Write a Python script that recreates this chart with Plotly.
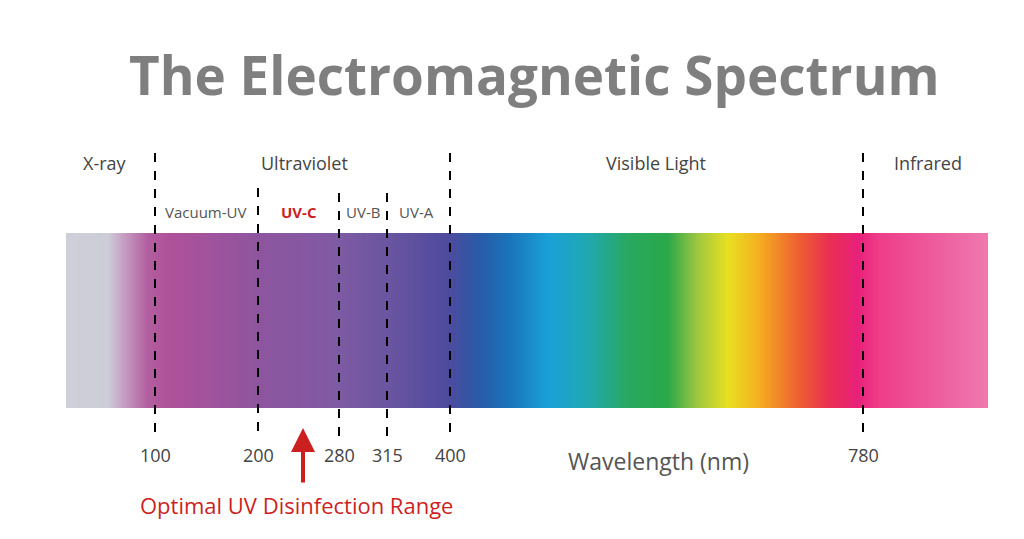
import numpy as np
import plotly.graph_objects as go

# spectrum colour stops: (position along the strip in px, colour)
stop_pos = [58, 100, 112, 140, 160, 250, 330, 380, 440, 470, 500, 540, 580, 620, 660, 690, 720, 750, 790, 820, 850, 870, 980]
stop_col = ["#cfcfd9", "#cdcdd8", "#c8a8c8", "#b25ea0", "#b0519a", "#8e559f", "#7e5aa3", "#6a55a0",
            "#4e4a9e", "#2a5aa8", "#1a72b8", "#1aa0d8", "#20a8b0", "#28a860", "#2aa84a", "#a0c840",
            "#e8e020", "#f5b020", "#ee6030", "#e83050", "#e8207a", "#ee3c88", "#ee7ab0"]

# wavelength boundaries and where they sit on the strip
wavelengths = [100, 200, 280, 315, 400, 780]
wl_pos = [147, 250, 331, 379, 442, 855]
line_top = [145, 180, 185, 185, 145, 145]

regions = ["X-ray", "Ultraviolet", "Visible Light", "Infrared"]
region_pos = [97, 296, 648, 920]
subregions = ["Vacuum-UV", "UV-C", "UV-B", "UV-A"]
sub_pos = [198, 291, 355, 408]

fig = go.Figure()

lo, hi = stop_pos[0], stop_pos[-1]
edges = np.arange(lo, hi + 1, 1)
mids = (edges[:-1] + edges[1:]) / 2
cs = [[(p - lo) / (hi - lo), c] for p, c in zip(stop_pos, stop_col)]
fig.add_trace(go.Heatmap(x=edges, y=[225, 400], z=[mids], colorscale=cs, zmin=lo, zmax=hi,
                         showscale=False, hoverinfo="skip"))

for x, t in zip(wl_pos, line_top):
    fig.add_trace(go.Scatter(x=[x, x], y=[t, 430], mode="lines",
                             line=dict(color="black", width=2, dash="dash"), hoverinfo="skip"))

fig.add_annotation(x=526, y=66, text="<b>The Electromagnetic Spectrum</b>", showarrow=False,
                   font=dict(family="Open Sans", size=53, color="#7f7f7f"))
for t, x in zip(regions, region_pos):
    fig.add_annotation(x=x, y=155, text=t, showarrow=False,
                       font=dict(family="Open Sans", size=18, color="#444"))
for t, x in zip(subregions, sub_pos):
    if t == "UV-C":
        txt, col = "<b>UV-C</b>", "#cc1f1f"
    else:
        txt, col = t, "#555"
    fig.add_annotation(x=x, y=204, text=txt, showarrow=False,
                       font=dict(family="Open Sans", size=15, color=col))
for w, x in zip(wavelengths, wl_pos):
    fig.add_annotation(x=x, y=447, text=str(w), showarrow=False,
                       font=dict(family="Open Sans", size=18, color="#444"))
fig.add_annotation(x=650, y=453, text="Wavelength (nm)", showarrow=False,
                   font=dict(family="Open Sans", size=23, color="#555"))
fig.add_annotation(x=295, y=420, ax=295, ay=476, axref="x", ayref="y", text="",
                   showarrow=True, arrowhead=2, arrowsize=1.2, arrowwidth=4, arrowcolor="#cc1f1f")
fig.add_annotation(x=288, y=497, text="Optimal UV Disinfection Range", showarrow=False,
                   font=dict(family="Open Sans", size=22, color="#cc1f1f"))

fig.update_layout(width=1024, height=539, margin=dict(l=0, r=0, t=0, b=0),
                  paper_bgcolor="white", plot_bgcolor="white", showlegend=False,
                  xaxis=dict(range=[0, 1024], visible=False, fixedrange=True),
                  yaxis=dict(range=[539, 0], visible=False, fixedrange=True))
fig.write_html("out.html")
